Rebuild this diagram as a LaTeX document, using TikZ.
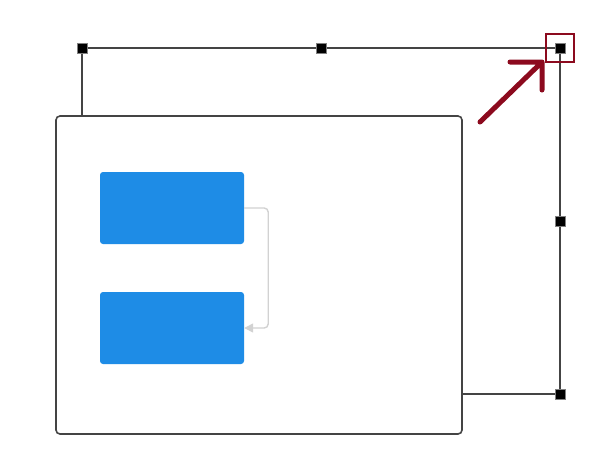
\documentclass[tikz,border=0pt]{standalone}
\usepackage{tikz}
\usetikzlibrary{arrows.meta}

\definecolor{boxblue}{HTML}{1E8CE6}
\definecolor{hintred}{HTML}{8C0A1E}
\definecolor{framegray}{HTML}{444444}
\definecolor{linkgray}{HTML}{D2D2D2}

\begin{document}
\begin{tikzpicture}[x=1pt, y=-1pt,
    frame/.style={draw=framegray, line width=1.6pt},
    handle/.style={draw=gray, fill=black, line width=0.8pt, minimum size=10pt, inner sep=0pt},
    bluebox/.style={fill=boxblue, rounded corners=3pt, minimum width=144pt, minimum height=72pt, inner sep=0pt},
    link/.style={draw=linkgray, line width=1.4pt, rounded corners=4pt, -{Triangle[length=9pt,width=9pt]}}]
        \useasboundingbox (0,0) rectangle (597,459);

        % Selection frame (partly hidden by the panel)
        \coordinate (tl) at (82,48);
        \coordinate (br) at (560,394);
        \draw[frame] (tl) rectangle (br);

        % Panel
        \node[draw=framegray, fill=white, line width=1.6pt, rounded corners=4pt,
              minimum width=406pt, minimum height=318pt, inner sep=0pt] (panel) at (259,275) {};

        % Blue boxes and their link
        \node[bluebox] (upper) at (172,208) {};
        \node[bluebox] (lower) at (172,328) {};
        \draw[link] (upper.east) -- ++(24,0) |- (lower.east);

        % Resize handles
        \node[handle] (hTL) at (82,48) {};
        \node[handle] (hT) at (321,48) {};
        \node[handle] (hTR) at (560,48) {};
        \node[handle] (hR) at (560,221) {};
        \node[handle] (hBR) at (560,394) {};

        % Highlight of the corner handle
        \node[draw=hintred, line width=2pt, minimum size=28pt, inner sep=0pt] (mark) at (hTR) {};

        % Pointer arrow
        \coordinate (tail) at (480,122);
        \coordinate (tip) at (542,62);
        \draw[hintred, line width=5pt, line cap=round, line join=round]
            (tail) -- (tip) (510,62) -- (tip) -- (542,90);
    \end{tikzpicture}
\end{document}
